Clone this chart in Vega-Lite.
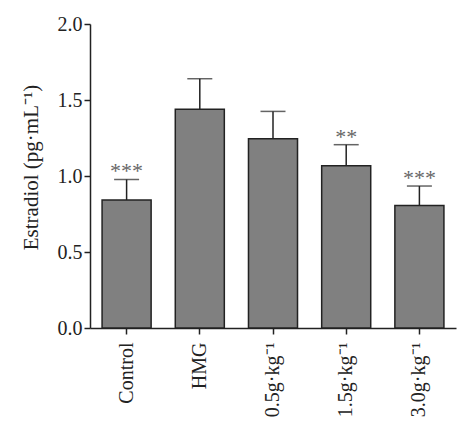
{
  "$schema": "https://vega.github.io/schema/vega-lite/v6.json",
  "autosize": "none",
  "padding": {"left": 90, "top": 24, "right": 18, "bottom": 112},
  "width": 366,
  "height": 304,
  "config": {
    "view": {"stroke": null},
    "font": "Liberation Serif",
    "axis": {
      "domainColor": "#222",
      "domainWidth": 1.5,
      "tickColor": "#222",
      "tickWidth": 1.5,
      "tickSize": 6,
      "labelColor": "#222",
      "labelFont": "Liberation Serif",
      "labelFontSize": 20,
      "titleFont": "Liberation Serif",
      "titleColor": "#222",
      "titleFontSize": 21,
      "titleFontWeight": "normal",
      "grid": false
    }
  },
  "data": {
    "values": [
      {"group": "Control", "mean": 0.842, "upper": 0.977, "sig": "***"},
      {"group": "HMG", "mean": 1.439, "upper": 1.64, "sig": ""},
      {"group": "0.5g·kg⁻¹", "mean": 1.245, "upper": 1.425, "sig": ""},
      {"group": "1.5g·kg⁻¹", "mean": 1.068, "upper": 1.206, "sig": "**"},
      {"group": "3.0g·kg⁻¹", "mean": 0.806, "upper": 0.934, "sig": "***"}
    ]
  },
  "encoding": {
    "x": {
      "field": "group",
      "type": "nominal",
      "sort": null,
      "scale": {"paddingInner": 0.33, "paddingOuter": 0.165},
      "axis": {
        "title": null,
        "labelAngle": -90,
        "labelAlign": "right",
        "labelBaseline": "middle",
        "labelPadding": 8
      }
    }
  },
  "layer": [
    {
      "mark": {"type": "rule", "color": "#222", "strokeWidth": 1.5},
      "encoding": {
        "y": {"field": "mean", "type": "quantitative"},
        "y2": {"field": "upper"}
      }
    },
    {
      "mark": {"type": "tick", "color": "#222", "thickness": 1.5, "size": 25, "orient": "horizontal"},
      "encoding": {
        "y": {"field": "upper", "type": "quantitative"}
      }
    },
    {
      "mark": {"type": "bar", "color": "#808080", "stroke": "#222", "strokeWidth": 1.5},
      "encoding": {
        "y": {
          "field": "mean",
          "type": "quantitative",
          "scale": {"domain": [0, 2], "nice": false},
          "axis": {
            "values": [0, 0.5, 1, 1.5, 2],
            "format": ".1f",
            "title": "Estradiol (pg·mL⁻¹)",
            "labelPadding": 2,
            "titleY": 143,
            "titleX": -49
          }
        }
      }
    },
    {
      "mark": {"type": "text", "color": "#666", "fontSize": 22, "baseline": "middle", "dy": -8},
      "encoding": {
        "y": {"field": "upper", "type": "quantitative"},
        "text": {"field": "sig"}
      }
    }
  ]
}
